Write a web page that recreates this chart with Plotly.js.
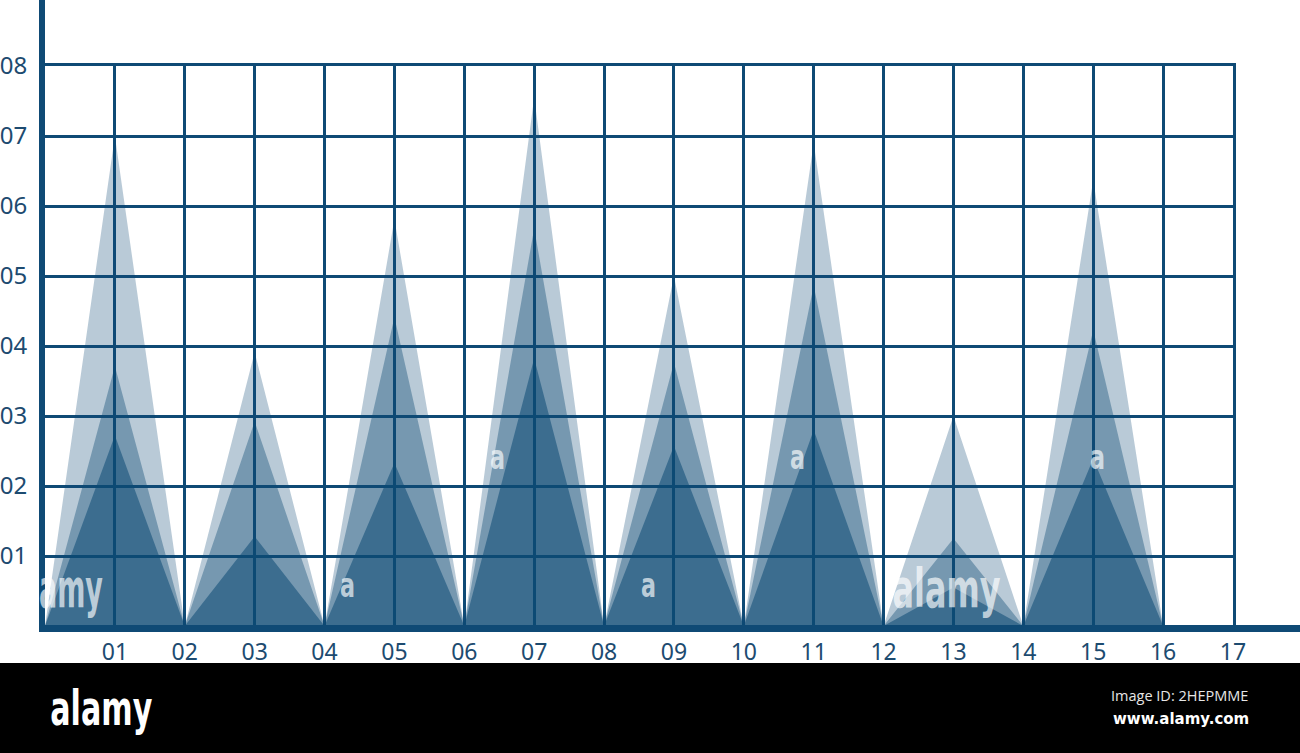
<!DOCTYPE html>
<html>
<head>
<meta charset="utf-8">
<script src="https://cdn.plot.ly/plotly-3.0.1.min.js"></script>
<style>html,body{margin:0;padding:0;background:#fff;}#chart{width:1300px;height:753px;}</style>
</head>
<body>
<div id="chart"></div>
<script>
// Data
var peakPositions = [1, 3, 5, 7, 9, 11, 13, 15];
var lightValues  = [7.00, 3.91, 5.81, 7.55, 5.00, 6.90, 3.00, 6.37];
var mediumValues = [3.71, 2.92, 4.41, 5.68, 3.76, 4.86, 1.25, 4.23];
var darkValues   = [2.72, 1.28, 2.33, 3.82, 2.57, 2.80, 0.55, 2.39];
var xTickVals = [1,2,3,4,5,6,7,8,9,10,11,12,13,14,15,16,17];
var xTickText = ['01','02','03','04','05','06','07','08','09','10','11','12','13','14','15','16','17'];
var yTickVals = [1,2,3,4,5,6,7,8];
var yTickText = ['01','02','03','04','05','06','07','08'];

var NAVY = '#0f4a75';
var LABEL = '#1d4b70';

function triangles(vals, color) {
  var xs = [], ys = [];
  for (var i = 0; i < peakPositions.length; i++) {
    var p = peakPositions[i];
    xs.push(p - 1, p, p + 1, null);
    ys.push(0, vals[i], 0, null);
  }
  return {x: xs, y: ys, type: 'scatter', mode: 'lines', fill: 'toself',
          fillcolor: color, line: {width: 0, color: color}, hoverinfo: 'skip', showlegend: false};
}

var data = [
  triangles(lightValues,  'rgba(13,74,116,0.29)'),
  triangles(mediumValues, 'rgba(13,74,116,0.39)'),
  triangles(darkValues,   'rgba(13,74,116,0.55)')
];

var L = 45, T = 66, W = 1188, H = 560;
function px(xp){ return (xp - L) / W; }
function py(yp){ return (T + H - yp) / H; }

var WM = 'rgba(255,255,255,0.68)';
var annotations = [
  {xref: 'paper', yref: 'paper', x: px(101), y: py(708), xanchor: 'center', yanchor: 'middle',
   text: '<b>alamy</b>', showarrow: false,
   font: {family: 'DejaVu Sans, sans-serif', size: 48, color: '#ffffff'}, _len: 102},
  {xref: 'paper', yref: 'paper', x: px(1250), y: py(695), xanchor: 'right', yanchor: 'middle',
   text: 'Image ID: 2HEPMME', showarrow: false,
   font: {family: 'Open Sans, Noto Sans, sans-serif', size: 14.5, color: '#e6e6e6'}},
  {xref: 'paper', yref: 'paper', x: px(1251), y: py(719), xanchor: 'right', yanchor: 'middle',
   text: '<b>www.alamy.com</b>', showarrow: false,
   font: {family: 'DejaVu Sans, Noto Sans, sans-serif', size: 15, color: '#ffffff'}},
  // faint watermark marks inside the plot
  {xref: 'paper', yref: 'paper', x: px(71), y: py(588), xanchor: 'center', yanchor: 'middle',
   text: '<b>amy</b>', showarrow: false,
   font: {family: 'DejaVu Sans, sans-serif', size: 54, color: WM}, _len: 64},
  {xref: 'paper', yref: 'paper', x: px(946), y: py(588), xanchor: 'center', yanchor: 'middle',
   text: '<b>alamy</b>', showarrow: false,
   font: {family: 'DejaVu Sans, sans-serif', size: 54, color: WM}, _len: 108}
];
var aPos = [[347,585],[497,457],[648,585],[797,457],[1097,457]];
aPos.forEach(function(p){
  annotations.push({xref: 'paper', yref: 'paper', x: px(p[0]), y: py(p[1]), xanchor: 'center', yanchor: 'middle',
    text: '<b>a</b>', showarrow: false,
    font: {family: 'DejaVu Sans, sans-serif', size: 34, color: WM}, _len: 15});
});

var layout = {
  width: 1300, height: 753,
  margin: {l: L, r: 1300 - L - W, t: T, b: 753 - T - H, pad: 0},
  paper_bgcolor: '#ffffff', plot_bgcolor: '#ffffff',
  showlegend: false,
  font: {family: 'Noto Sans, Open Sans, sans-serif', color: LABEL},
  xaxis: {
    range: [0, 17], tickvals: xTickVals, ticktext: xTickText,
    showgrid: true, gridcolor: NAVY, gridwidth: 3,
    showline: true, mirror: true, linecolor: NAVY, linewidth: 3,
    zeroline: false, ticks: '',
    ticklabelstandoff: 3,
    tickfont: {size: 23, color: LABEL, family: 'Noto Sans, Open Sans, sans-serif'},
    fixedrange: true
  },
  yaxis: {
    range: [0, 8], tickvals: yTickVals, ticktext: yTickText,
    showgrid: true, gridcolor: NAVY, gridwidth: 3,
    showline: true, mirror: true, linecolor: NAVY, linewidth: 3,
    zeroline: false, ticks: '',
    ticklabelstandoff: 10,
    tickfont: {size: 24, color: LABEL, family: 'Noto Sans, Open Sans, sans-serif'},
    fixedrange: true
  },
  shapes: [
    {type: 'line', xref: 'paper', yref: 'paper', x0: px(42), x1: px(42), y0: py(631), y1: py(0),
     line: {color: NAVY, width: 6}, layer: 'above'},
    {type: 'line', xref: 'paper', yref: 'paper', x0: px(39), x1: px(1300), y0: py(628.5), y1: py(628.5),
     line: {color: NAVY, width: 7}, layer: 'above'},
    {type: 'rect', xref: 'paper', yref: 'paper', x0: px(0), x1: px(1300), y0: py(663), y1: py(753),
     fillcolor: '#000000', line: {width: 0}, layer: 'above'}
  ],
  annotations: annotations.map(function(a){ var b = Object.assign({}, a); delete b._len; return b; })
};

Plotly.newPlot('chart', data, layout, {displayModeBar: false, staticPlot: true}).then(function(){
  var nodes = document.querySelectorAll('#chart .annotation');
  nodes.forEach(function(n){
    var idx = +n.getAttribute('data-index');
    var a = annotations[idx];
    if (a && a._len) {
      var t = n.querySelector('text');
      if (t) { t.setAttribute('textLength', a._len); t.setAttribute('lengthAdjust', 'spacingAndGlyphs'); }
    }
  });
});
</script>
</body>
</html>
